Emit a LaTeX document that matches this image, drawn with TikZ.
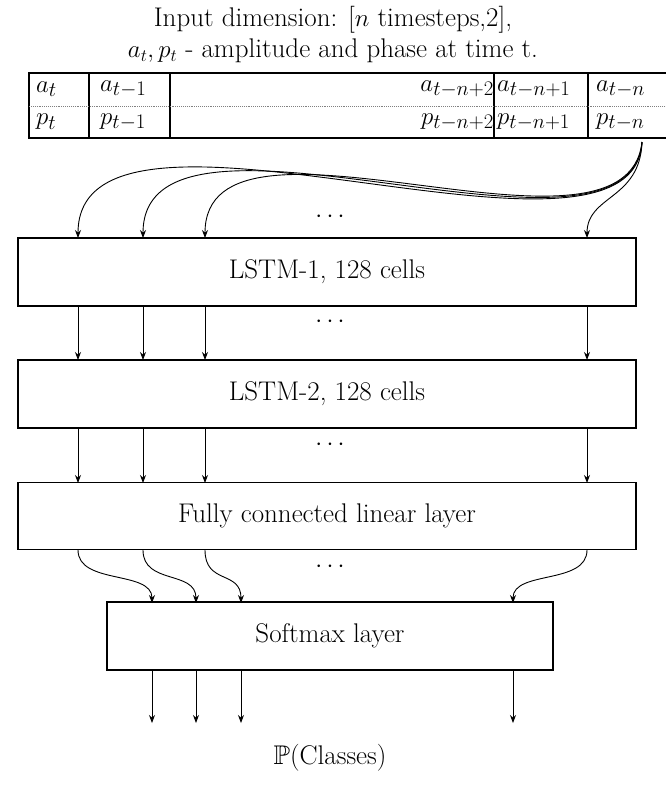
\documentclass[tikz,border=0pt]{standalone}
\usepackage{amssymb}
\usetikzlibrary{arrows.meta}
\begin{document}
\begin{tikzpicture}[x=1pt,y=-1pt,
 box/.style={draw,line width=1.5pt,inner sep=0},
 arr/.style={-{Stealth[length=8pt,width=6pt]},line width=0.9pt},
 txt/.style={font=\fontsize{27}{32}\selectfont},
 cell/.style={font=\fontsize{29}{32}\selectfont,inner sep=0}]
\useasboundingbox (0,0) rectangle (666,785);
\clip (0,0) rectangle (666,785);
\node[txt] (t1) at (333,20) {Input dimension: [$n$ timesteps,2],};
\node[txt] (t2) at (333,51) {$a_t,p_t$ - amplitude and phase at time t.};
% table
\draw[line width=1.1pt] (29,73) rectangle (680,138);
\foreach \x in {89,170,494,588} \draw[line width=1.1pt] (\x,73) -- (\x,138);
\draw[densely dotted,gray,line width=0.9pt] (29,106) -- (680,106);
\node[cell,anchor=west] (a0) at (36,89) {$a_t$};
\node[cell,anchor=west] (p0) at (36,122) {$p_t$};
\node[cell,anchor=west] (a1) at (100,89) {$a_{t-1}$};
\node[cell,anchor=west] (p1) at (100,122) {$p_{t-1}$};
\node[cell,anchor=east] (a2) at (494,89) {$a_{t-n+2}$};
\node[cell,anchor=east] (p2) at (494,122) {$p_{t-n+2}$};
\node[cell,anchor=west] (a3) at (497,89) {$a_{t-n+1}$};
\node[cell,anchor=west] (p3) at (497,122) {$p_{t-n+1}$};
\node[cell,anchor=west] (a4) at (596,89) {$a_{t-n}$};
\node[cell,anchor=west] (p4) at (596,122) {$p_{t-n}$};
\coordinate (src) at (642,142);
% boxes
\node[box,minimum width=618,minimum height=68,txt] (l1) at (327,272) {LSTM-1, 128 cells};
\node[box,minimum width=618,minimum height=68,txt] (l2) at (327,394) {LSTM-2, 128 cells};
\node[box,minimum width=618,minimum height=67,txt] (fc) at (327,516) {Fully connected linear layer};
\node[box,minimum width=446,minimum height=68,txt] (sm) at (330,636) {Softmax layer};
\foreach \y in {225,330,453,575} \node[txt] at (330,\y-8) {$\cdots$};
% input curves
\draw[arr] (src) .. controls (634,300) and (78,60) .. (78,238);
\draw[arr] (src) .. controls (630,292) and (143,72) .. (143,238);
\draw[arr] (src) .. controls (626,284) and (205,84) .. (205,238);
\draw[arr] (src) .. controls (640,200) and (587,195) .. (587,238);
% straight
\foreach \x in {78,143,205,587} {
 \draw[arr] (\x,306) -- (\x,360);
 \draw[arr] (\x,428) -- (\x,483);
}
\foreach \a/\b in {78/152,143/196,205/241,587/513}
 \draw[arr] (\a,550) .. controls (\a,585) and (\b,570) .. (\b,603);
\foreach \b in {152,196,241,513} \draw[arr] (\b,670) -- (\b,723);
\node[txt] (out) at (330,758) {$\mathbb{P}$(Classes)};
\end{tikzpicture}
\end{document}
